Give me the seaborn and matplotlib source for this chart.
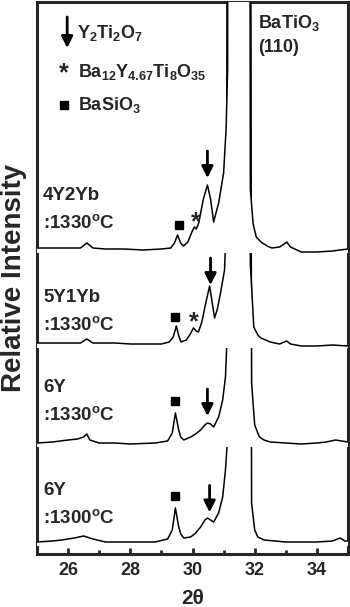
import numpy as np
import pandas as pd
import matplotlib
matplotlib.use('Agg')
import matplotlib.pyplot as plt
import seaborn as sns
from matplotlib.ticker import MultipleLocator

# ---- DATA (2theta in deg, intensity in a.u. above each curve's own baseline) ----
samples = ['4Y2Yb', '5Y1Yb', '6Y', '6Y']
temps = [':1330$^{o}$C', ':1330$^{o}$C', ':1330$^{o}$C', ':1300$^{o}$C']
offsets = [305, 210, 111, 12]

tt_4y2yb = [25.0, 25.5, 26.0, 26.4, 26.6, 26.8, 27.2, 27.8, 28.4, 29.0, 29.3, 29.42, 29.52, 29.62,
            29.71, 29.85, 29.98, 30.06, 30.12, 30.2, 30.35, 30.48, 30.58, 30.68, 30.84, 31.0, 31.08,
            31.13, 31.15, 31.3, 31.48, 31.65, 31.8, 31.86, 31.95, 32.05, 32.2, 32.4, 32.55, 32.8,
            32.95, 33.03, 33.15, 33.5, 34.0, 34.5, 35.0]
int_4y2yb = [1, 1, 1, 1, 6, 1, 0, 0, -1, 0, 1, 6, 14, 6,
             3, 7, 17, 22, 20, 26, 50, 64, 50, 27, 46, 76, 120,
             180, 1500, 2600, 3000, 2600, 1500, 60, 25, 12, 7, 3, 1, 2,
             5, 7, 2, -3, -3, -2, 0]

tt_5y1yb = [25.0, 25.5, 26.0, 26.4, 26.6, 26.8, 27.5, 28.0, 28.5, 29.0, 29.25, 29.38, 29.48, 29.56,
            29.63, 29.8, 29.93, 30.03, 30.12, 30.19, 30.3, 30.42, 30.55, 30.63, 30.71, 30.8, 30.9,
            31.03, 31.1, 31.15, 31.3, 31.48, 31.65, 31.8, 31.86, 31.97, 32.1, 32.2, 32.5, 32.8,
            32.95, 33.03, 33.15, 33.5, 34.0, 34.5, 35.0]
int_5y1yb = [1, 1, 1, 1, 5, 1, 1, 0, 0, 0, 2, 7, 18, 8,
             2, 4, 10, 16, 13, 12, 22, 40, 58, 42, 26, 35, 51,
             74, 130, 1500, 2600, 3000, 2600, 1500, 80, 17, 9, 6, 2, 0,
             2, 3, 0, -2, -2, -1, -2]

tt_6y1330 = [25.0, 25.5, 26.0, 26.3, 26.5, 26.6, 26.7, 27.0, 27.5, 28.0, 28.8, 29.2, 29.35, 29.45,
             29.55, 29.62, 29.72, 29.94, 30.1, 30.26, 30.4, 30.48, 30.58, 30.68, 30.84, 30.97, 31.06,
             31.13, 31.16, 31.3, 31.48, 31.65, 31.8, 31.9, 32.0, 32.15, 32.3, 32.5, 33.0, 33.5,
             34.0, 34.3, 34.6, 34.8, 35.0]
int_6y1330 = [0, 1, 3, 4, 6, 9, 3, 0, 0, -1, 0, 2, 10, 30,
              14, 6, 3, 6, 9, 13, 18, 20, 19, 16, 26, 43, 66,
              120, 1500, 2600, 3000, 2600, 1500, 60, 18, 6, 3, 1, 0, -1,
              0, 1, 3, 2, 1]

tt_6y1300 = [25.0, 25.5, 25.8, 26.2, 26.5, 26.8, 27.2, 28.0, 28.8, 29.2, 29.35, 29.45, 29.55, 29.62,
             29.72, 29.94, 30.1, 30.26, 30.4, 30.48, 30.58, 30.68, 30.84, 30.97, 31.06, 31.13, 31.16,
             31.3, 31.48, 31.65, 31.8, 31.9, 32.0, 32.1, 32.3, 33.0, 34.0, 34.5, 34.75, 34.9, 35.0]
int_6y1300 = [0, 1, 2, 4, 6, 3, 0, 0, 0, 3, 12, 34, 16, 8,
              4, 5, 9, 15, 22, 24, 22, 20, 29, 45, 72, 105, 1500,
              2600, 3000, 2600, 1500, 39, 12, 5, 2, 0, 0, 1, 4, 1, 1]

curves = [(tt_4y2yb, int_4y2yb), (tt_5y1yb, int_5y1yb), (tt_6y1330, int_6y1330), (tt_6y1300, int_6y1300)]

# phase peak positions per sample (2theta)
y2ti2o7_tt = [30.48, 30.58, 30.48, 30.55]
basio3_tt = [29.55, 29.45, 29.45, 29.45]
ba12_tt = [30.1, 30.03, None, None]

# ---- STYLE ----
sns.set_style('ticks')
plt.rcParams['font.family'] = ['Liberation Sans', 'DejaVu Sans']
plt.rcParams['font.weight'] = 'bold'
plt.rcParams['mathtext.fontset'] = 'custom'
for k in ['rm', 'it', 'bf', 'sf']:
    plt.rcParams['mathtext.' + k] = 'Liberation Sans:bold'

fig = plt.figure(figsize=(3.5, 6.07), dpi=100)
ax = fig.add_axes([37/350, 53/607, 311/350, 552/607])

arrow_kw = dict(arrowstyle='-|>', lw=2, color='black', mutation_scale=17, shrinkA=0, shrinkB=0)

# ---- CURVES (bottom first, upper ones mask the lower peaks) ----
n = len(curves)
for i in range(n - 1, -1, -1):
    tt, val = curves[i]
    y = np.array(val) + offsets[i]
    z = 2 + 2 * (n - i)
    ax.fill_between(tt, offsets[i] - 4, y, color='white', zorder=z, lw=0)
    sns.lineplot(x=tt, y=y, ax=ax, color='black', lw=1.1, zorder=z + 1)

    # markers above the peaks
    ya = np.interp(y2ti2o7_tt[i], tt, y)
    ax.annotate('', xy=(y2ti2o7_tt[i], ya + 7), xytext=(y2ti2o7_tt[i], ya + 34),
                arrowprops=arrow_kw, zorder=20)
    ys = np.interp(basio3_tt[i], tt, y)
    ax.plot(basio3_tt[i], ys + 12, marker='s', ms=5.5, color='black', zorder=20)
    if ba12_tt[i] is not None:
        yb = np.interp(ba12_tt[i], tt, y)
        ax.text(ba12_tt[i], yb - 1, '*', fontsize=18, ha='center', va='baseline', zorder=20)

# sample labels
label_y = [(354, 326), (252, 224), (162, 134), (59, 31)]
for i in range(n):
    ax.text(25.2, label_y[i][0], samples[i], fontsize=13.5, ha='left', va='baseline', zorder=20)
    ax.text(25.2, label_y[i][1], temps[i], fontsize=13.5, ha='left', va='baseline', zorder=20)

# legend-like key
ax.annotate('', xy=(25.97, 506), xytext=(25.97, 537), arrowprops=arrow_kw)
ax.text(26.29, 516, 'Y$_2$Ti$_2$O$_7$', fontsize=13, va='baseline')
ax.text(25.87, 474, '*', fontsize=18, ha='center', va='baseline')
ax.text(26.32, 477, 'Ba$_{12}$Y$_{4.67}$Ti$_8$O$_{35}$', fontsize=13, va='baseline')
ax.plot(25.87, 449, marker='s', ms=5.5, color='black')
ax.text(26.32, 444, 'BaSiO$_3$', fontsize=13, va='baseline')
ax.text(32.1, 526, 'BaTiO$_3$', fontsize=13, va='baseline', zorder=20)
ax.text(32.1, 502, '(110)', fontsize=13, va='baseline', zorder=20)

# ---- AXES ----
ax.set_xlim(25, 35)
ax.set_ylim(0, 552)
ax.set_yticks([])
ax.set_xticks([26, 28, 30, 32, 34])
ax.xaxis.set_minor_locator(MultipleLocator(1))
ax.tick_params(axis='x', which='major', direction='in', width=2, length=4, labelsize=13, pad=6)
ax.tick_params(axis='x', which='minor', direction='in', width=2, length=3)
for s in ax.spines.values():
    s.set_linewidth(2.2)
    s.set_visible(True)
ax.set_xlabel('2θ', fontsize=15, fontweight='bold')
ax.xaxis.label.set_va('center')
ax.xaxis.set_label_coords(0.5, -44/552)
ax.set_ylabel('Relative Intensity', fontsize=20, fontweight='bold')
ax.yaxis.label.set_va('center')
ax.yaxis.set_label_coords(-23/311, 0.5)

fig.savefig('out.png', dpi=100)
